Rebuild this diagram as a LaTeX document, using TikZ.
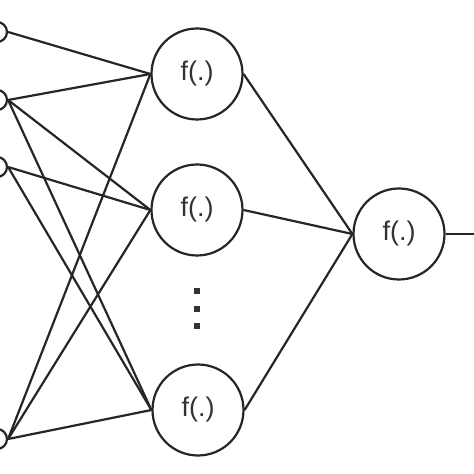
\documentclass[tikz,border=0pt]{standalone}
\usepackage{fontspec}
\setmainfont{Liberation Sans}
\begin{document}
\begin{tikzpicture}[x=1pt,y=1pt,
  inp/.style={circle,draw=black!85,line width=2.2pt,minimum size=20pt,inner sep=0pt},
  neuron/.style={circle,draw=black!85,line width=2.2pt,minimum size=91pt,inner sep=0pt,font=\fontsize{27}{30}\selectfont,text=black!80},
  conn/.style={draw=black!85,line width=2.2pt},
  dotsq/.style={fill=black!80,minimum size=6pt,inner sep=0pt}]
\clip (0,0) rectangle (474,474);
\fill[white] (0,0) rectangle (474,474);
\node[inp] (i1) at (-3,442) {};
\node[inp] (i2) at (-3,374) {};
\node[inp] (i3) at (-3,307) {};
\node[inp] (i4) at (-3,35) {};
\node[neuron] (h1) at (197,400) {f(.)};
\node[neuron] (h2) at (197,264) {f(.)};
\node[neuron] (h3) at (198,64) {f(.)};
\node[neuron] (o) at (399,240) {f(.)};
\node[dotsq] (d1) at (197,183) {};
\node[dotsq] (d2) at (197,165) {};
\node[dotsq] (d3) at (197,148) {};
\coordinate (end) at (476,240);
\foreach \a/\b in {i1/h1,i2/h1,i2/h2,i2/h3,i3/h2,i3/h3,i4/h1,i4/h2,i4/h3}
  \draw[conn] (\a.east) -- (\b.west);
\foreach \a in {h1,h2,h3}
  \draw[conn] (\a.east) -- (o.west);
\draw[conn] (o.east) -- (end);
\end{tikzpicture}
\end{document}
